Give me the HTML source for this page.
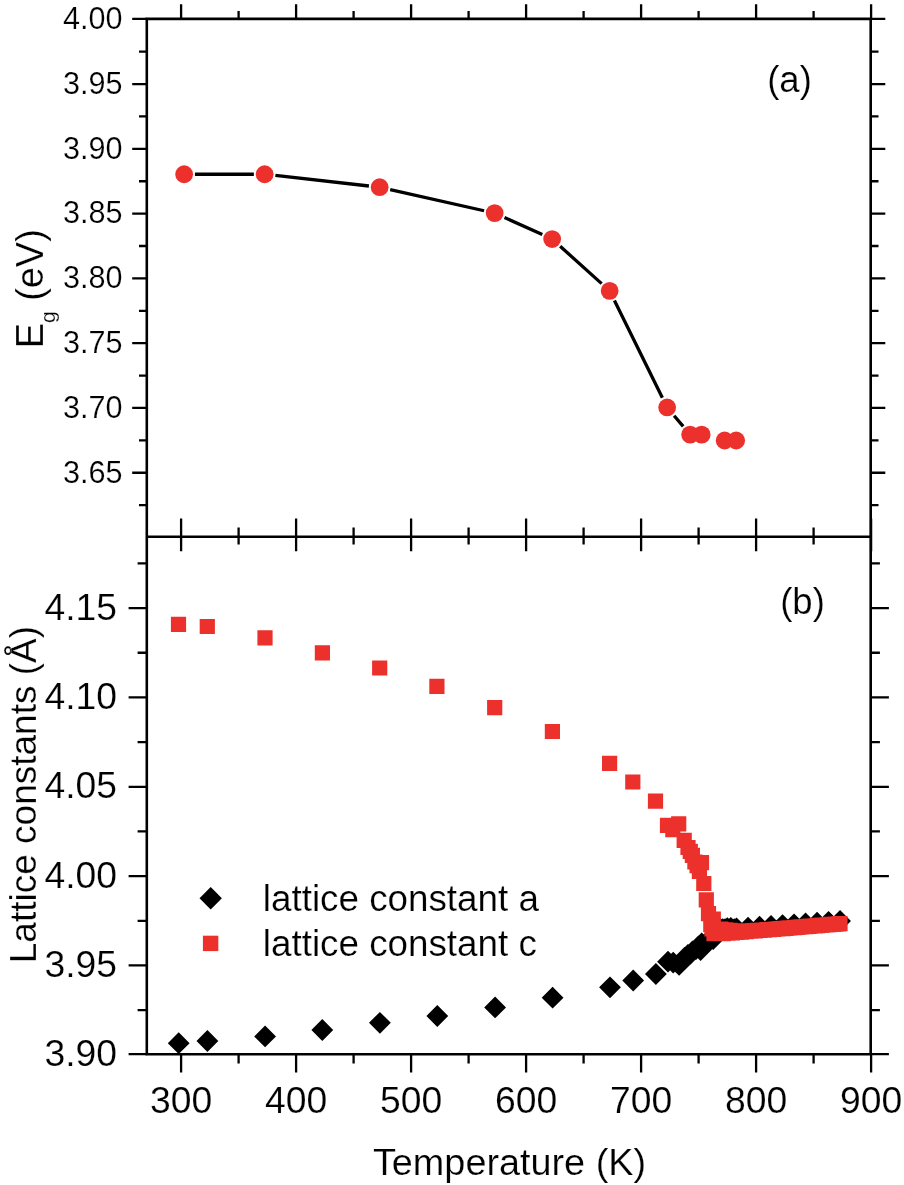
<!DOCTYPE html>
<html><head><meta charset="utf-8"><title>Eg and lattice constants vs temperature</title>
<style>html,body{margin:0;padding:0;background:#fff}svg{display:block}text{font-family:"Liberation Sans",sans-serif;fill:#000;stroke:#fff;stroke-width:0.2px;paint-order:fill stroke}.t1{font-size:30.6px}.t2{font-size:36.5px}.t3{font-size:37.3px}</style></head><body>
<svg width="904" height="1185" viewBox="0 0 904 1185">
<rect width="904" height="1185" fill="#fff"/>
<path d="M132.20 18.90L146.80 18.90M870.70 18.90L885.30 18.90M132.20 84.07L146.80 84.07M870.70 84.07L885.30 84.07M132.20 148.85L146.80 148.85M870.70 148.85L885.30 148.85M132.20 213.62L146.80 213.62M870.70 213.62L885.30 213.62M132.20 278.40L146.80 278.40M870.70 278.40L885.30 278.40M132.20 343.18L146.80 343.18M870.70 343.18L885.30 343.18M132.20 407.95L146.80 407.95M870.70 407.95L885.30 407.95M132.20 472.73L146.80 472.73M870.70 472.73L885.30 472.73M139.00 51.69L146.80 51.69M870.70 51.69L878.50 51.69M139.00 116.46L146.80 116.46M870.70 116.46L878.50 116.46M139.00 181.24L146.80 181.24M870.70 181.24L878.50 181.24M139.00 246.01L146.80 246.01M870.70 246.01L878.50 246.01M139.00 310.79L146.80 310.79M870.70 310.79L878.50 310.79M139.00 375.56L146.80 375.56M870.70 375.56L878.50 375.56M139.00 440.34L146.80 440.34M870.70 440.34L878.50 440.34M139.00 505.11L146.80 505.11M870.70 505.11L878.50 505.11M181.10 4.30L181.10 18.90M181.10 518.50L181.10 551.30M181.10 1054.20L181.10 1072.40M296.10 4.30L296.10 18.90M296.10 518.50L296.10 551.30M296.10 1054.20L296.10 1072.40M411.10 4.30L411.10 18.90M411.10 518.50L411.10 551.30M411.10 1054.20L411.10 1072.40M526.10 4.30L526.10 18.90M526.10 518.50L526.10 551.30M526.10 1054.20L526.10 1072.40M641.10 4.30L641.10 18.90M641.10 518.50L641.10 551.30M641.10 1054.20L641.10 1072.40M756.10 4.30L756.10 18.90M756.10 518.50L756.10 551.30M756.10 1054.20L756.10 1072.40M871.10 4.30L871.10 18.90M871.10 518.50L871.10 551.30M871.10 1054.20L871.10 1072.40M238.60 11.10L238.60 18.90M238.60 527.50L238.60 544.50M238.60 1054.20L238.60 1063.40M353.60 11.10L353.60 18.90M353.60 527.50L353.60 544.50M353.60 1054.20L353.60 1063.40M468.60 11.10L468.60 18.90M468.60 527.50L468.60 544.50M468.60 1054.20L468.60 1063.40M583.60 11.10L583.60 18.90M583.60 527.50L583.60 544.50M583.60 1054.20L583.60 1063.40M698.60 11.10L698.60 18.90M698.60 527.50L698.60 544.50M698.60 1054.20L698.60 1063.40M813.60 11.10L813.60 18.90M813.60 527.50L813.60 544.50M813.60 1054.20L813.60 1063.40M128.60 1054.20L146.80 1054.20M870.70 1054.20L888.90 1054.20M128.60 965.46L146.80 965.46M870.70 965.46L888.90 965.46M128.60 876.12L146.80 876.12M870.70 876.12L888.90 876.12M128.60 786.78L146.80 786.78M870.70 786.78L888.90 786.78M128.60 697.44L146.80 697.44M870.70 697.44L888.90 697.44M128.60 608.10L146.80 608.10M870.70 608.10L888.90 608.10M137.60 1010.13L146.80 1010.13M870.70 1010.13L879.90 1010.13M137.60 920.79L146.80 920.79M870.70 920.79L879.90 920.79M137.60 831.45L146.80 831.45M870.70 831.45L879.90 831.45M137.60 742.11L146.80 742.11M870.70 742.11L879.90 742.11M137.60 652.77L146.80 652.77M870.70 652.77L879.90 652.77M137.60 563.43L146.80 563.43M870.70 563.43L879.90 563.43" stroke="#000" stroke-width="2.3" fill="none"/>
<path d="M146.8 18.9H870.7V1054.2H146.8Z M146.8 536.7H870.7" stroke="#000" stroke-width="2.6" fill="none" stroke-linejoin="miter"/>
<text class="t1" x="122.6" y="29.1" text-anchor="end">4.00</text>
<text class="t1" x="122.6" y="93.9" text-anchor="end">3.95</text>
<text class="t1" x="122.6" y="158.7" text-anchor="end">3.90</text>
<text class="t1" x="122.6" y="223.4" text-anchor="end">3.85</text>
<text class="t1" x="122.6" y="288.2" text-anchor="end">3.80</text>
<text class="t1" x="122.6" y="353.0" text-anchor="end">3.75</text>
<text class="t1" x="122.6" y="417.7" text-anchor="end">3.70</text>
<text class="t1" x="122.6" y="482.5" text-anchor="end">3.65</text>
<text class="t3" x="117" y="1066.3" text-anchor="end">3.90</text>
<text class="t3" x="117" y="977.0" text-anchor="end">3.95</text>
<text class="t3" x="117" y="887.6" text-anchor="end">4.00</text>
<text class="t3" x="117" y="798.3" text-anchor="end">4.05</text>
<text class="t3" x="117" y="708.9" text-anchor="end">4.10</text>
<text class="t3" x="117" y="619.6" text-anchor="end">4.15</text>
<text class="t3" x="181.1" y="1113.3" text-anchor="middle">300</text>
<text class="t3" x="296.1" y="1113.3" text-anchor="middle">400</text>
<text class="t3" x="411.1" y="1113.3" text-anchor="middle">500</text>
<text class="t3" x="526.1" y="1113.3" text-anchor="middle">600</text>
<text class="t3" x="641.1" y="1113.3" text-anchor="middle">700</text>
<text class="t3" x="756.1" y="1113.3" text-anchor="middle">800</text>
<text class="t3" x="871.1" y="1113.3" text-anchor="middle">900</text>
<text x="509.5" y="1175.3" text-anchor="middle" style="font-size:37.8px">Temperature (K)</text>
<text class="t2" transform="translate(35.9 794.6) rotate(-90)" text-anchor="middle" style="font-size:37px">Lattice constants (Å)</text>
<text class="t2" transform="translate(42.8 288.8) rotate(-90)" text-anchor="middle" style="font-size:37.9px">E<tspan dy="12.2" style="font-size:21px">g</tspan><tspan dy="-12.2"> (eV)</tspan></text>
<text class="t2" x="789.5" y="91.8" text-anchor="middle">(a)</text>
<text class="t2" x="802.5" y="613.8" text-anchor="middle">(b)</text>
<path d="M194.95 174.26L253.85 174.26M275.38 175.47L368.92 186.01M390.19 189.59L484.11 210.75M504.50 217.56L542.30 234.60M560.17 246.27L601.63 283.62M614.43 300.54L662.37 397.76M674.12 415.70L683.18 426.41" stroke="#000" stroke-width="3.3" fill="none" stroke-linecap="butt"/>
<g fill="#ec312d"><circle cx="184.15" cy="174.26" r="8.9"/><circle cx="264.65" cy="174.26" r="8.9"/><circle cx="379.65" cy="187.21" r="8.9"/><circle cx="494.65" cy="213.12" r="8.9"/><circle cx="552.15" cy="239.03" r="8.9"/><circle cx="609.65" cy="290.85" r="8.9"/><circle cx="667.15" cy="407.45" r="8.9"/><circle cx="690.15" cy="434.66" r="8.9"/><circle cx="701.65" cy="434.66" r="8.9"/><circle cx="724.65" cy="440.49" r="8.9"/><circle cx="736.15" cy="440.49" r="8.9"/></g>
<path d="M167.80 1043.20L178.70 1032.30L189.60 1043.20L178.70 1054.10ZM196.50 1041.00L207.40 1030.10L218.30 1041.00L207.40 1051.90ZM254.20 1036.40L265.10 1025.50L276.00 1036.40L265.10 1047.30ZM311.40 1030.00L322.30 1019.10L333.20 1030.00L322.30 1040.90ZM369.00 1022.80L379.90 1011.90L390.80 1022.80L379.90 1033.70ZM426.40 1016.00L437.30 1005.10L448.20 1016.00L437.30 1026.90ZM484.20 1007.40L495.10 996.50L506.00 1007.40L495.10 1018.30ZM541.70 997.70L552.60 986.80L563.50 997.70L552.60 1008.60ZM599.10 987.30L610.00 976.40L620.90 987.30L610.00 998.20ZM622.30 980.50L633.20 969.60L644.10 980.50L633.20 991.40ZM645.00 974.00L655.90 963.10L666.80 974.00L655.90 984.90ZM657.10 961.70L668.00 950.80L678.90 961.70L668.00 972.60ZM662.30 962.60L673.20 951.70L684.10 962.60L673.20 973.50ZM668.20 964.90L679.10 954.00L690.00 964.90L679.10 975.80ZM673.50 958.00L684.40 947.10L695.30 958.00L684.40 968.90ZM677.00 955.00L687.90 944.10L698.80 955.00L687.90 965.90ZM679.30 954.00L690.20 943.10L701.10 954.00L690.20 964.90ZM681.60 951.50L692.50 940.60L703.40 951.50L692.50 962.40ZM685.10 949.00L696.00 938.10L706.90 949.00L696.00 959.90ZM687.40 946.50L698.30 935.60L709.20 946.50L698.30 957.40ZM689.70 950.00L700.60 939.10L711.50 950.00L700.60 960.90ZM690.80 943.50L701.70 932.60L712.60 943.50L701.70 954.40ZM693.10 945.00L704.00 934.10L714.90 945.00L704.00 955.90ZM695.40 943.00L706.30 932.10L717.20 943.00L706.30 953.90ZM697.70 941.00L708.60 930.10L719.50 941.00L708.60 951.90ZM700.00 939.50L710.90 928.60L721.80 939.50L710.90 950.40ZM702.30 939.00L713.20 928.10L724.10 939.00L713.20 949.90ZM704.95 928.88L715.85 917.98L726.75 928.88L715.85 939.78ZM707.25 929.27L718.15 918.37L729.05 929.27L718.15 940.17ZM709.55 928.89L720.45 917.99L731.35 928.89L720.45 939.79ZM711.85 929.17L722.75 918.27L733.65 929.17L722.75 940.07ZM714.15 929.10L725.05 918.20L735.95 929.10L725.05 940.00ZM716.45 928.10L727.35 917.20L738.25 928.10L727.35 939.00ZM719.90 927.87L730.80 916.97L741.70 927.87L730.80 938.77ZM723.35 929.04L734.25 918.14L745.15 929.04L734.25 939.94ZM725.65 928.35L736.55 917.45L747.45 928.35L736.55 939.25ZM737.15 927.54L748.05 916.64L758.95 927.54L748.05 938.44ZM748.65 926.73L759.55 915.83L770.45 926.73L759.55 937.63ZM760.15 925.91L771.05 915.01L781.95 925.91L771.05 936.81ZM771.65 925.10L782.55 914.20L793.45 925.10L782.55 936.00ZM783.15 924.28L794.05 913.38L804.95 924.28L794.05 935.18ZM794.65 923.47L805.55 912.57L816.45 923.47L805.55 934.37ZM806.15 922.65L817.05 911.75L827.95 922.65L817.05 933.55ZM817.65 921.84L828.55 910.94L839.45 921.84L828.55 932.74ZM829.15 921.02L840.05 910.12L850.95 921.02L840.05 931.92Z" fill="#000"/>
<path d="M170.90 616.70h15.2v15.2h-15.2ZM199.70 618.90h15.2v15.2h-15.2ZM257.40 630.30h15.2v15.2h-15.2ZM314.80 645.30h15.2v15.2h-15.2ZM372.10 660.40h15.2v15.2h-15.2ZM429.30 678.70h15.2v15.2h-15.2ZM487.10 700.10h15.2v15.2h-15.2ZM544.80 723.90h15.2v15.2h-15.2ZM602.00 755.80h15.2v15.2h-15.2ZM625.20 774.40h15.2v15.2h-15.2ZM647.90 793.50h15.2v15.2h-15.2ZM659.90 817.70h15.2v15.2h-15.2ZM665.20 822.10h15.2v15.2h-15.2ZM671.10 816.20h15.2v15.2h-15.2ZM676.60 832.70h15.2v15.2h-15.2ZM680.40 839.90h15.2v15.2h-15.2ZM682.70 843.70h15.2v15.2h-15.2ZM684.80 847.80h15.2v15.2h-15.2ZM687.30 854.40h15.2v15.2h-15.2ZM689.50 858.00h15.2v15.2h-15.2ZM691.80 863.90h15.2v15.2h-15.2ZM693.90 855.10h15.2v15.2h-15.2ZM696.20 875.90h15.2v15.2h-15.2ZM698.70 892.20h15.2v15.2h-15.2ZM700.90 906.10h15.2v15.2h-15.2ZM703.20 917.10h15.2v15.2h-15.2ZM705.70 911.40h15.2v15.2h-15.2ZM704.40 921.40h15.2v15.2h-15.2ZM706.40 926.10h15.2v15.2h-15.2ZM708.70 926.10h15.2v15.2h-15.2ZM711.00 926.10h15.2v15.2h-15.2ZM713.30 921.40h15.2v15.2h-15.2ZM715.60 926.00h15.2v15.2h-15.2ZM717.90 922.14h15.2v15.2h-15.2ZM720.20 925.61h15.2v15.2h-15.2ZM722.50 922.78h15.2v15.2h-15.2ZM724.80 925.22h15.2v15.2h-15.2ZM727.10 923.13h15.2v15.2h-15.2ZM729.40 924.83h15.2v15.2h-15.2ZM731.70 923.27h15.2v15.2h-15.2ZM734.00 924.44h15.2v15.2h-15.2ZM736.30 923.26h15.2v15.2h-15.2ZM738.60 924.05h15.2v15.2h-15.2ZM740.90 923.15h15.2v15.2h-15.2ZM743.20 923.66h15.2v15.2h-15.2ZM745.50 922.95h15.2v15.2h-15.2ZM747.80 923.27h15.2v15.2h-15.2ZM750.10 922.71h15.2v15.2h-15.2ZM752.40 922.88h15.2v15.2h-15.2ZM754.70 922.42h15.2v15.2h-15.2ZM757.00 922.49h15.2v15.2h-15.2ZM759.30 922.10h15.2v15.2h-15.2ZM761.60 922.10h15.2v15.2h-15.2ZM763.90 921.77h15.2v15.2h-15.2ZM766.20 921.71h15.2v15.2h-15.2ZM768.50 921.42h15.2v15.2h-15.2ZM770.80 921.32h15.2v15.2h-15.2ZM773.10 921.05h15.2v15.2h-15.2ZM775.40 920.93h15.2v15.2h-15.2ZM777.70 920.68h15.2v15.2h-15.2ZM780.00 920.54h15.2v15.2h-15.2ZM782.30 920.31h15.2v15.2h-15.2ZM784.60 920.15h15.2v15.2h-15.2ZM786.90 919.93h15.2v15.2h-15.2ZM789.20 919.76h15.2v15.2h-15.2ZM791.50 919.55h15.2v15.2h-15.2ZM793.80 919.37h15.2v15.2h-15.2ZM796.10 919.16h15.2v15.2h-15.2ZM798.40 918.98h15.2v15.2h-15.2ZM800.70 918.78h15.2v15.2h-15.2ZM803.00 918.59h15.2v15.2h-15.2ZM805.30 918.39h15.2v15.2h-15.2ZM807.60 918.20h15.2v15.2h-15.2ZM809.90 918.00h15.2v15.2h-15.2ZM812.20 917.81h15.2v15.2h-15.2ZM814.50 917.61h15.2v15.2h-15.2ZM816.80 917.42h15.2v15.2h-15.2ZM819.10 917.22h15.2v15.2h-15.2ZM821.40 917.03h15.2v15.2h-15.2ZM823.70 916.84h15.2v15.2h-15.2ZM826.00 916.64h15.2v15.2h-15.2ZM828.30 916.45h15.2v15.2h-15.2ZM830.60 916.25h15.2v15.2h-15.2ZM832.40 916.10h15.2v15.2h-15.2Z" fill="#ec312d"/>
<path d="M199.50 898.30L210.70 887.10L221.90 898.30L210.70 909.50Z" fill="#000"/>
<rect x="202.9" y="935.7" width="15.4" height="15.4" fill="#ec312d"/>
<text class="t2" x="262.8" y="911.1" style="font-size:36.8px">lattice constant a</text>
<text class="t2" x="262.8" y="955.7" style="font-size:36.8px">lattice constant c</text>
</svg></body></html>
